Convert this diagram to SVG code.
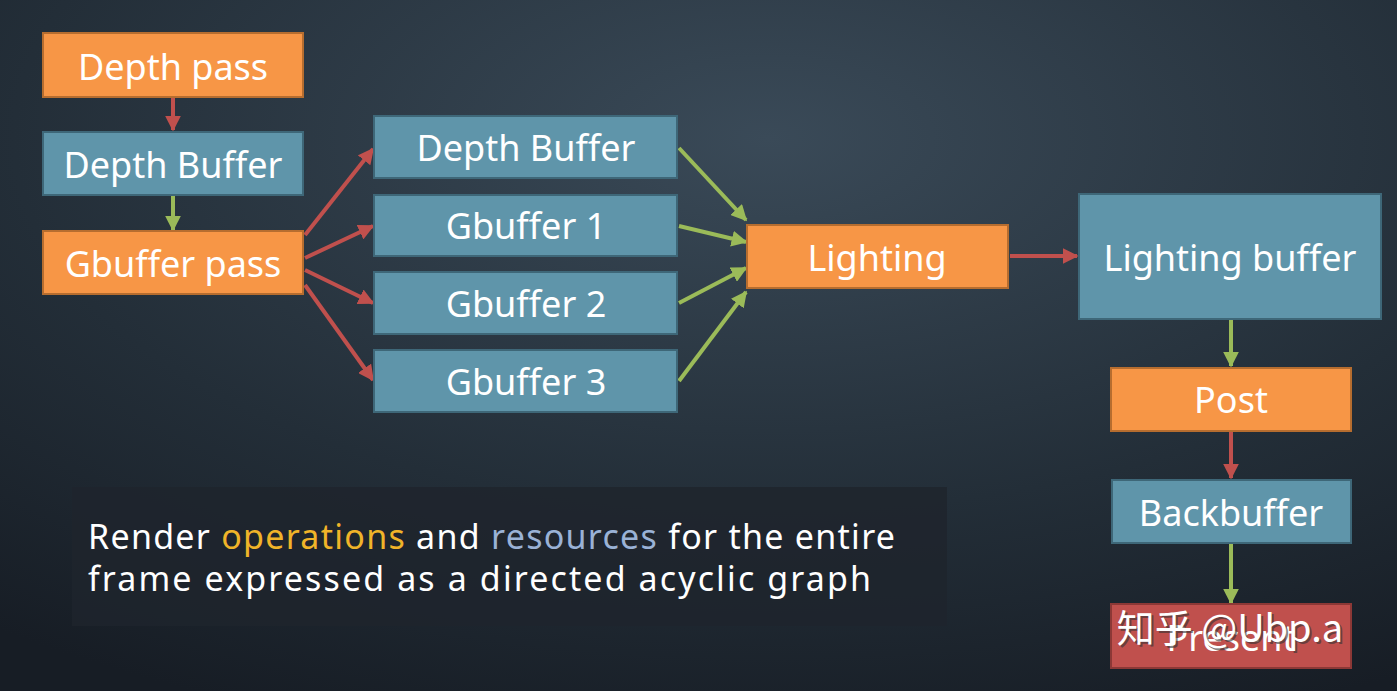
<svg xmlns="http://www.w3.org/2000/svg" width="1397" height="691" viewBox="0 0 1397 691">
<defs>
<radialGradient id="bg" cx="0.55" cy="0.2" r="0.9">
<stop offset="0" stop-color="#3a4a58"/><stop offset="0.6" stop-color="#232e38"/><stop offset="1" stop-color="#171d25"/>
</radialGradient>
<marker id="ar" viewBox="0 0 10 10" refX="9" refY="5" markerWidth="4" markerHeight="4" orient="auto"><path d="M0,0L10,5L0,10z" fill="#C0504D"/></marker>
<marker id="ag" viewBox="0 0 10 10" refX="9" refY="5" markerWidth="4" markerHeight="4" orient="auto"><path d="M0,0L10,5L0,10z" fill="#9BBB59"/></marker>
<style>
.op{fill:#F79646;stroke:#B66D2F;stroke-width:2}
.rs{fill:#5F95AA;stroke:#3E6778;stroke-width:2}
.pr{fill:#C0504D;stroke:#8C3836;stroke-width:2}
text{font-family:"Noto Sans","DejaVu Sans",sans-serif;fill:#fff;text-anchor:middle;dominant-baseline:central;font-size:36px}
.r{stroke:#C0504D;stroke-width:4;fill:none;marker-end:url(#ar)}
.g{stroke:#9BBB59;stroke-width:4;fill:none;marker-end:url(#ag)}
</style>
</defs>
<rect width="1397" height="691" fill="url(#bg)"/>
<g id="connectors">
<line class="r" x1="173" y1="97" x2="173" y2="130"/>
<line class="g" x1="173" y1="195" x2="173" y2="230"/>
<line class="r" x1="305" y1="235" x2="373" y2="149"/>
<line class="r" x1="305" y1="258" x2="373" y2="226"/>
<line class="r" x1="305" y1="270" x2="373" y2="303"/>
<line class="r" x1="305" y1="285" x2="373" y2="380"/>
<line class="g" x1="679" y1="148" x2="746" y2="220"/>
<line class="g" x1="679" y1="226" x2="746" y2="242"/>
<line class="g" x1="679" y1="303" x2="746" y2="268"/>
<line class="g" x1="679" y1="381" x2="746" y2="292"/>
<line class="r" x1="1010" y1="256" x2="1077" y2="256"/>
<line class="g" x1="1231" y1="320" x2="1231" y2="366"/>
<line class="r" x1="1231" y1="432" x2="1231" y2="478"/>
<line class="g" x1="1231" y1="544" x2="1231" y2="603"/>
</g>
<g id="depth-pass"><rect class="op" x="43" y="33" width="260" height="64"/><text x="173" y="66">Depth pass</text></g>
<g id="depth-buffer-1"><rect class="rs" x="43" y="132" width="260" height="63"/><text x="173" y="164">Depth Buffer</text></g>
<g id="gbuffer-pass"><rect class="op" x="43" y="231" width="260" height="63"/><text x="173" y="263">Gbuffer pass</text></g>
<g id="depth-buffer-2"><rect class="rs" x="374" y="116" width="303" height="62"/><text x="526" y="147">Depth Buffer</text></g>
<g id="gbuffer-1"><rect class="rs" x="374" y="195" width="303" height="61"/><text x="526" y="225">Gbuffer 1</text></g>
<g id="gbuffer-2"><rect class="rs" x="374" y="272" width="303" height="62"/><text x="526" y="303">Gbuffer 2</text></g>
<g id="gbuffer-3"><rect class="rs" x="374" y="350" width="303" height="62"/><text x="526" y="381">Gbuffer 3</text></g>
<g id="lighting"><rect class="op" x="747" y="225" width="261" height="63"/><text x="877" y="257">Lighting</text></g>
<g id="lighting-buffer"><rect class="rs" x="1079" y="194" width="302" height="125"/><text x="1230" y="257">Lighting buffer</text></g>
<g id="post"><rect class="op" x="1111" y="368" width="240" height="63"/><text x="1231" y="399">Post</text></g>
<g id="backbuffer"><rect class="rs" x="1112" y="480" width="239" height="63"/><text x="1231" y="512">Backbuffer</text></g>
<g id="present"><rect class="pr" x="1111" y="604" width="240" height="64"/><text x="1231" y="637">Present</text></g>
<g id="caption">
<rect x="72" y="487" width="875" height="139" fill="#1e252d" opacity="0.85"/>
<text x="88" y="536" textLength="807" lengthAdjust="spacing" style="text-anchor:start;font-size:34px"><tspan>Render </tspan><tspan style="fill:#F0B429">operations</tspan><tspan> and </tspan><tspan style="fill:#9AB2D6">resources</tspan><tspan> for the entire</tspan></text>
<text x="88" y="578" textLength="783" lengthAdjust="spacing" style="text-anchor:start;font-size:34px">frame expressed as a directed acyclic graph</text>
</g>
<text x="1232" y="627" style="font-family:'Noto Sans CJK SC','Noto Sans',sans-serif;font-size:38px;fill:#333;opacity:0.6">知乎 @Ubp.a</text>
<text x="1230" y="625" style="font-family:'Noto Sans CJK SC','Noto Sans',sans-serif;font-size:38px">知乎 @Ubp.a</text>
</svg>
